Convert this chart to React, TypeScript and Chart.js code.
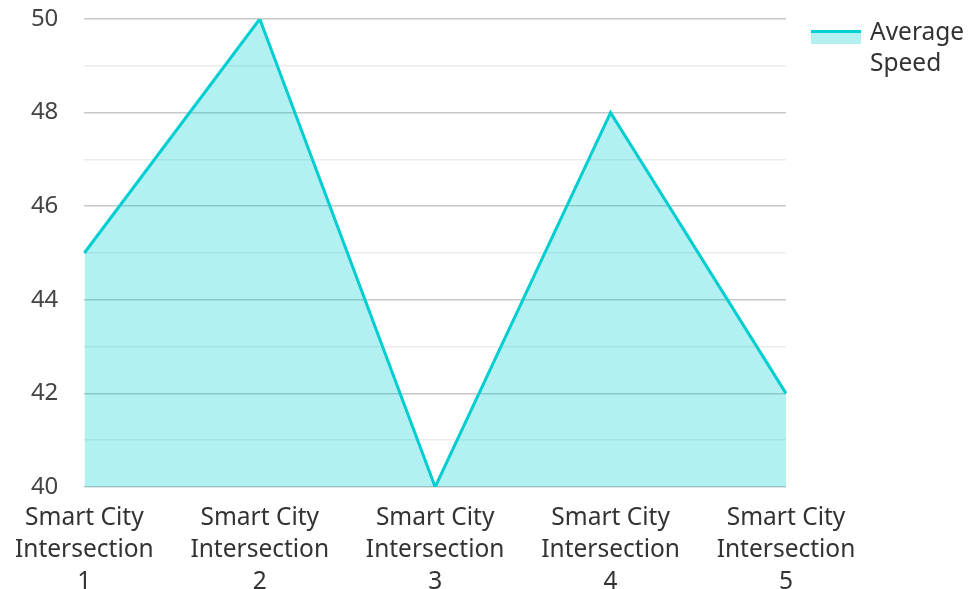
import React, { useEffect, useRef } from "react";
import { Chart, registerables } from "chart.js";

Chart.register(...registerables);

const categories: string[][] = [
  ["Smart City", "Intersection", "1"],
  ["Smart City", "Intersection", "2"],
  ["Smart City", "Intersection", "3"],
  ["Smart City", "Intersection", "4"],
  ["Smart City", "Intersection", "5"],
];
const averageSpeed: number[] = [45, 50, 40, 48, 42];
const seriesName = "Average Speed";
const legendLines: string[] = ["Average", "Speed"];
const yMin = 40;
const yMax = 50;

const LINE = "rgb(0,206,209)";
const FILL = "rgba(0,206,209,0.3)";
const FONT = "'Noto Sans', 'Open Sans', sans-serif";
const FS = 24.5;

const legendPlugin = {
  id: "customLegend",
  afterDraw(chart: any) {
    const ctx = chart.ctx;
    const x = 811;
    const y = 30;
    ctx.save();
    ctx.fillStyle = FILL;
    ctx.fillRect(x, y, 50, 14);
    ctx.fillStyle = LINE;
    ctx.fillRect(x, y, 50, 3);
    ctx.fillStyle = "#333";
    ctx.font = `${FS}px ${FONT}`;
    ctx.textBaseline = "middle";
    ctx.textAlign = "left";
    legendLines.forEach((t, i) => ctx.fillText(t, 870, 33 + i * 31));
    ctx.restore();
  },
};

export default function App() {
  const ref = useRef<HTMLCanvasElement>(null);
  useEffect(() => {
    if (!ref.current) return;
    const chart = new Chart(ref.current, {
      type: "line",
      data: {
        labels: categories,
        datasets: [
          {
            label: seriesName,
            data: averageSpeed,
            borderColor: LINE,
            backgroundColor: FILL,
            borderWidth: 3,
            fill: "start",
            tension: 0,
            pointRadius: 0,
          },
        ],
      },
      options: {
        animation: false,
        responsive: true,
        maintainAspectRatio: false,
        layout: { padding: { top: 19, right: 182, left: 0, bottom: 0 } },
        plugins: { legend: { display: false }, tooltip: { enabled: false } },
        scales: {
          x: {
            offset: false,
            grid: { display: false, drawTicks: false },
            border: { display: false },
            ticks: {
              color: "#333",
              font: { family: FONT, size: FS, lineHeight: 1.3 },
              padding: 15,
              maxRotation: 0,
              autoSkip: false,
            },
            afterFit: (s: any) => {
              s.height = 102;
              s.paddingTop = 0;
              s.paddingBottom = 0;
            },
          },
          y: {
            min: yMin,
            max: yMax,
            grid: {
              drawTicks: false,
              color: (c: any) => (c.tick && c.tick.value % 2 === 0 ? "#c8c8c8" : "#ebebeb"),
              lineWidth: 1.5,
            },
            border: { display: false },
            ticks: {
              stepSize: 1,
              color: "#444",
              font: { family: FONT, size: 24 },
              padding: 26,
              callback: (v: any) => (Number(v) % 2 === 0 ? String(v) : ""),
            },
            afterFit: (s: any) => {
              s.width = 84;
              s.paddingTop = 0;
              s.paddingBottom = 0;
            },
          },
        },
      },
      plugins: [legendPlugin],
    });
    return () => chart.destroy();
  }, []);
  return (
    <div style={{ position: "fixed", left: 0, top: 0, width: 968, height: 589 }}>
      <canvas ref={ref} />
    </div>
  );
}
